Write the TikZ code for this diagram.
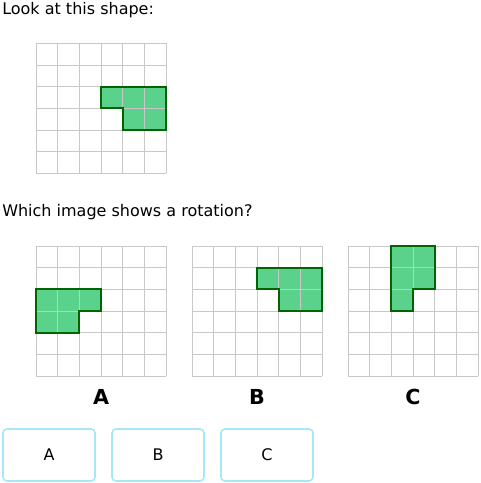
\documentclass[tikz,border=0pt]{standalone}
\usepackage{fontspec}
\setmainfont{DejaVu Sans}
\definecolor{gridc}{RGB}{200,200,200}
\definecolor{shapefill}{RGB}{90,210,140}
\definecolor{shapeedge}{RGB}{0,100,0}
\definecolor{btnc}{RGB}{170,230,250}
\tikzset{
  gridline/.style={draw=gridc, line width=0.75pt},
  edgeline/.style={draw=shapeedge, line width=1.5pt, line join=miter},
  prompt/.style={anchor=base west, inner sep=0pt, font=\fontsize{12pt}{14pt}\selectfont},
  lab/.style={inner sep=0pt, font=\fontsize{15.5pt}{18pt}\selectfont\bfseries},
  btnbox/.style={draw=btnc, line width=1.2pt, rounded corners=3pt, minimum width=69pt, minimum height=39pt, inner sep=0pt, font=\fontsize{12pt}{14pt}\selectfont}
}
\newcommand\panel[3]{%
\begin{scope}[shift={(#1,#2)},x=16.25pt,y=-16.25pt]
\fill[shapefill] #3;
\foreach \i in {0,...,6}{\draw[gridline] (\i,0)--(\i,6); \draw[gridline] (0,\i)--(6,\i);}
\draw[edgeline] #3;
\end{scope}}
\begin{document}
\begin{tikzpicture}[x=0.75pt,y=-0.75pt]
\useasboundingbox[fill=white] (0,0) rectangle (480,483);
\node[prompt] (t1) at (2,14) {Look at this shape:};
\panel{36}{43.33}{(3,2)--(6,2)--(6,4)--(4,4)--(4,3)--(3,3)--cycle}
\node[prompt] (t2) at (2,216.5) {Which image shows a rotation?};
\panel{36}{246}{(0,2)--(3,2)--(3,3)--(2,3)--(2,4)--(0,4)--cycle}
\panel{192}{246}{(3,1)--(6,1)--(6,3)--(4,3)--(4,2)--(3,2)--cycle}
\panel{348}{246}{(2,0)--(4,0)--(4,2)--(3,2)--(3,3)--(2,3)--cycle}
\node[lab] (lA) at (101,396.5) {A};
\node[lab] (lB) at (257,396.5) {B};
\node[lab] (lC) at (413,396.5) {C};
\node[btnbox] (bA) at (49,455) {A};
\node[btnbox] (bB) at (158,455) {B};
\node[btnbox] (bC) at (267,455) {C};
\end{tikzpicture}
\end{document}
